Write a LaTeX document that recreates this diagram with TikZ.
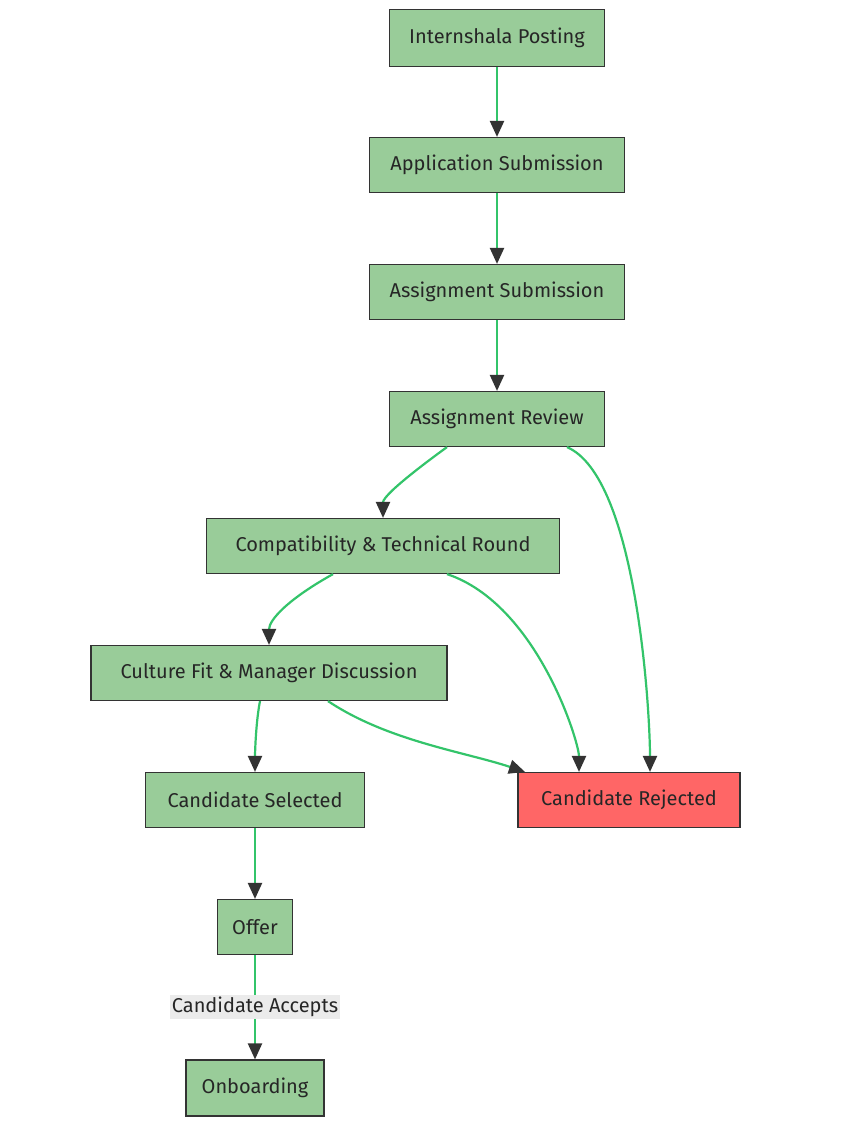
\documentclass[tikz,border=0pt]{standalone}
\usepackage{fontspec}
\setmainfont{Fira Sans}
\usetikzlibrary{arrows.meta}
\definecolor{nfill}{HTML}{99CC99}
\definecolor{rfill}{HTML}{FF6666}
\definecolor{edge}{HTML}{33C46A}
\definecolor{dark}{HTML}{333333}
\begin{document}
\begin{tikzpicture}[x=1pt,y=-1pt,
  box/.style={draw=dark,line width=1.2pt,fill=nfill,minimum height=55pt,inner sep=0pt,font=\fontsize{20}{24}\selectfont,text=black!85},
  rej/.style={box,fill=rfill},
  ar/.style={draw=edge,line width=2.2pt,-{Triangle[length=16pt,width=14pt,fill=dark,color=dark]}},
  lab/.style={fill=black!8,inner sep=2pt,font=\fontsize{20}{24}\selectfont,text=black!85}]
\useasboundingbox (0,0) rectangle (866,1128);
\fill[white] (0,0) rectangle (866,1128);
\node[box,minimum width=215pt,minimum height=57pt] (a) at (497,38) {Internshala Posting};
\node[box,minimum width=255pt] (b) at (497,165) {Application Submission};
\node[box,minimum width=255pt] (c) at (497,292) {Assignment Submission};
\node[box,minimum width=215pt] (d) at (497,419) {Assignment Review};
\node[box,minimum width=353pt] (e) at (383,546) {Compatibility \& Technical Round};
\node[box,minimum width=356pt] (f) at (269,673) {Culture Fit \& Manager Discussion};
\node[box,minimum width=219pt] (g) at (255,800) {Candidate Selected};
\node[rej,minimum width=222pt] (r) at (629,800) {Candidate Rejected};
\node[box,minimum width=75pt] (h) at (255,927) {Offer};
\node[box,minimum width=138pt,minimum height=56pt] (i) at (255,1088) {Onboarding};
\draw[ar] (a) -- (b);
\draw[ar] (b) -- (c);
\draw[ar] (c) -- (d);
\draw[ar] ([xshift=-50pt]d.south) .. controls +(0,0) and +(0,-25) .. ([xshift=0pt]e.north);
\draw[ar] ([xshift=70pt]d.south) .. controls +(70,30) and +(0,-60) .. ([xshift=21pt]r.north);
\draw[ar] ([xshift=-50pt]e.south) .. controls +(-45,25) and +(0,-25) .. (f.north);
\draw[ar] ([xshift=64pt]e.south) .. controls +(90,30) and +(0,-30) .. ([xshift=-50pt]r.north) ;
\draw[ar] ([xshift=-9pt]f.south) .. controls +(-4,20) and +(0,-20) .. (g.north);
\draw[ar] ([xshift=59pt]f.south) .. controls +(60,40) and +(-60,-20) .. ([xshift=-104pt]r.north);
\draw[ar] (g) -- (h);
\draw[ar] (h) -- node[lab] {Candidate Accepts} (i);
\end{tikzpicture}
\end{document}
